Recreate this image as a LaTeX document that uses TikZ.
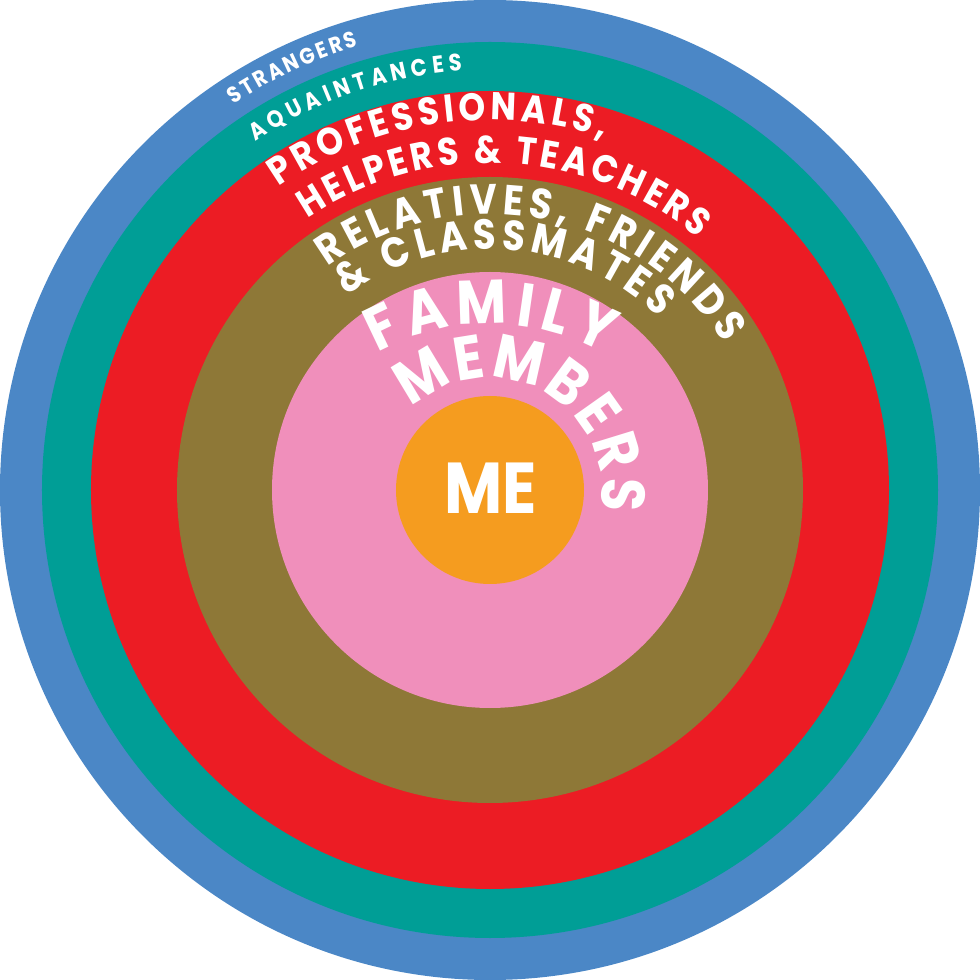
\documentclass[tikz,border=0pt]{standalone}
\usepackage{fontspec}
\setmainfont{Poppins}[FakeStretch=0.88]
\definecolor{strangerblue}{HTML}{4B87C6}
\definecolor{aquaintteal}{HTML}{009E96}
\definecolor{helperred}{HTML}{EC1C24}
\definecolor{friendolive}{HTML}{8E7837}
\definecolor{familypink}{HTML}{F08FBB}
\definecolor{meorange}{HTML}{F59C1F}
\newlength\arcw
\newlength\arcsum
\newcount\arcn
\newcommand\arcmeasure[2]{\settowidth{\arcw}{\pgfinterruptpicture#1#2\endpgfinterruptpicture}}
% #1 radius, #2 start angle, #3 end angle, #4 font, #5 letters, #6 name
\newcommand\arcline[6]{%
	\global\arcsum=0pt \global\arcn=0
	\foreach \ch in {#5}{%
		\arcmeasure{#4}{\ch}%
		\global\advance\arcsum by \arcw
		\global\advance\arcn by 1
	}%
	\pgfmathsetmacro\arcgap{(#1*0.569055*((#2-#3)/180*pi) - \arcsum)/(\arcn-1)}%
	\global\arcsum=0pt
	\foreach \ch [count=\i] in {#5}{%
		\arcmeasure{#4}{\ch}%
		\pgfmathsetmacro\arcang{#2 - (\arcsum + 0.5*\arcw)/(#1*0.569055)*180/pi}%
		\node[ringletter,font=#4,rotate=\arcang-90] (#6\i) at (\arcang:#1) {\ch};
		\global\advance\arcsum by \arcw
		\global\advance\arcsum by \arcgap pt
	}%
}
\begin{document}
\begin{tikzpicture}[x=0.02cm,y=0.02cm,
    ringletter/.style={text=white,anchor=base,inner sep=0pt}]
	\useasboundingbox (-490,-490) rectangle (490,490);
	\coordinate (o) at (0,0);
	\fill[strangerblue] (o) circle (490);
	\fill[aquaintteal] (o) circle (448);
	\fill[helperred] (o) circle (399);
	\fill[friendolive] (o) circle (313);
	\fill[familypink] (o) circle (218);
	\fill[meorange] (o) circle (94);
	% ring labels, left to right along each arc
	\arcline{463}{123.6}{106.5}{\fontsize{12.8}{14}\selectfont\bfseries}{S,T,R,A,N,G,E,R,S}{str}
	\arcline{420}{123.9}{93.8}{\fontsize{13.6}{15}\selectfont\bfseries}{A,Q,U,A,I,N,T,A,N,C,E,S}{aqu}
	\arcline{370}{124.8}{72}{\fontsize{22}{24}\selectfont\bfseries}{P,R,O,F,E,S,S,I,O,N,A,L,S,{,}}{pro}
	\arcline{327}{123.9}{50.4}{\fontsize{22}{24}\selectfont\bfseries}{H,E,L,P,E,R,S,{\ },{\&},{\ },T,E,A,C,H,E,R,S}{hel}
	\arcline{276}{126}{32}{\fontsize{24}{26}\selectfont\bfseries}{R,E,L,A,T,I,V,E,S,{,},{\ },F,R,I,E,N,D,S}{rel}
	\arcline{241}{126.4}{45.5}{\fontsize{24}{26}\selectfont\bfseries}{{\&},{\ },C,L,A,S,S,M,A,T,E,S}{cla}
	\begin{scope}[shift={(0,-65)}]
		\arcline{231}{119.2}{60.5}{\fontsize{35}{38}\selectfont\bfseries}{F,A,M,I,L,Y}{fam}
	\end{scope}
	\arcline{112}{133.8}{-10.7}{\fontsize{35}{38}\selectfont\bfseries}{M,E,M,B,E,R,S}{mem}
	\node[text=white,font=\fontsize{41}{44}\selectfont\bfseries] (me) at (1,1.5) {ME};
\end{tikzpicture}
\end{document}
